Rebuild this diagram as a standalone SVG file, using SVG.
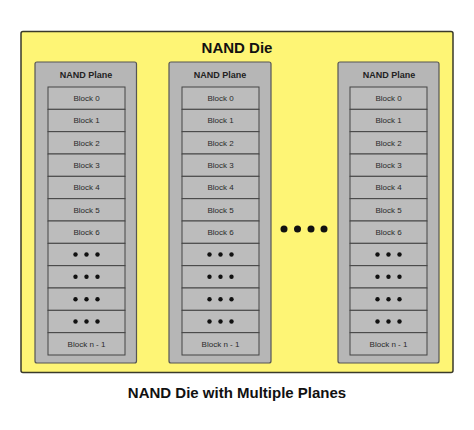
<svg xmlns="http://www.w3.org/2000/svg" width="474" height="430" viewBox="0 0 474 430">
<style>
.die{fill:#fef575;stroke:#3a3a2a;stroke-width:1.5}
.plane{fill:#b6b6b6;stroke:#555;stroke-width:1.2}
.blk{fill:#bcbcbc;stroke:#444;stroke-width:1}
.t1{font-family:"Liberation Sans",Arial,sans-serif;font-weight:bold;font-size:15px;fill:#111;text-anchor:middle}
.pt{font-family:"Liberation Sans",Arial,sans-serif;font-weight:bold;font-size:9px;fill:#222;text-anchor:middle}
.bt{font-family:"Liberation Sans",Arial,sans-serif;font-size:8px;fill:#2a2a2a;text-anchor:middle}
.d{fill:#111}
</style>
<defs>
<g id="col">
<rect class="blk" x="0" y="0" width="77" height="22.33"/>
<rect class="blk" x="0" y="22.33" width="77" height="22.33"/>
<rect class="blk" x="0" y="44.67" width="77" height="22.33"/>
<rect class="blk" x="0" y="67" width="77" height="22.33"/>
<rect class="blk" x="0" y="89.33" width="77" height="22.33"/>
<rect class="blk" x="0" y="111.67" width="77" height="22.33"/>
<rect class="blk" x="0" y="134" width="77" height="22.33"/>
<rect class="blk" x="0" y="156.33" width="77" height="22.33"/>
<rect class="blk" x="0" y="178.67" width="77" height="22.33"/>
<rect class="blk" x="0" y="201" width="77" height="22.33"/>
<rect class="blk" x="0" y="223.33" width="77" height="22.33"/>
<rect class="blk" x="0" y="245.67" width="77" height="22.33"/>
<text class="bt" x="38.5" y="14">Block 0</text>
<text class="bt" x="38.5" y="36.3">Block 1</text>
<text class="bt" x="38.5" y="58.7">Block 2</text>
<text class="bt" x="38.5" y="81">Block 3</text>
<text class="bt" x="38.5" y="103.3">Block 4</text>
<text class="bt" x="38.5" y="125.7">Block 5</text>
<text class="bt" x="38.5" y="148">Block 6</text>
<g class="d">
<circle cx="27.5" cy="167.5" r="2.2"/><circle cx="38.5" cy="167.5" r="2.2"/><circle cx="49.5" cy="167.5" r="2.2"/>
<circle cx="27.5" cy="189.8" r="2.2"/><circle cx="38.5" cy="189.8" r="2.2"/><circle cx="49.5" cy="189.8" r="2.2"/>
<circle cx="27.5" cy="212.2" r="2.2"/><circle cx="38.5" cy="212.2" r="2.2"/><circle cx="49.5" cy="212.2" r="2.2"/>
<circle cx="27.5" cy="234.5" r="2.2"/><circle cx="38.5" cy="234.5" r="2.2"/><circle cx="49.5" cy="234.5" r="2.2"/>
</g>
<text class="bt" x="38.5" y="259.7">Block n - 1</text>
</g>
</defs>
<g id="die">
<rect class="die" x="21" y="31.5" width="432" height="341" rx="2"/>
<text class="t1" x="237" y="52.5">NAND Die</text>
</g>
<g id="plane1">
<rect class="plane" x="35" y="62" width="101.5" height="301" rx="2"/>
<text class="pt" x="86" y="78">NAND Plane</text>
<use href="#col" x="48" y="87"/>
</g>
<g id="plane2">
<rect class="plane" x="169" y="62" width="102" height="301" rx="2"/>
<text class="pt" x="220" y="78">NAND Plane</text>
<use href="#col" x="182" y="87"/>
</g>
<g id="plane3">
<rect class="plane" x="338" y="62" width="101" height="301" rx="2"/>
<text class="pt" x="389" y="78">NAND Plane</text>
<use href="#col" x="350" y="87"/>
</g>
<g id="ellipsis" class="d">
<circle cx="284" cy="229" r="3.5"/><circle cx="297.5" cy="229" r="3.5"/><circle cx="311" cy="229" r="3.5"/><circle cx="324" cy="229" r="3.5"/>
</g>
<g id="connectors"/>
<text class="t1" x="237" y="397.5">NAND Die with Multiple Planes</text>
</svg>
